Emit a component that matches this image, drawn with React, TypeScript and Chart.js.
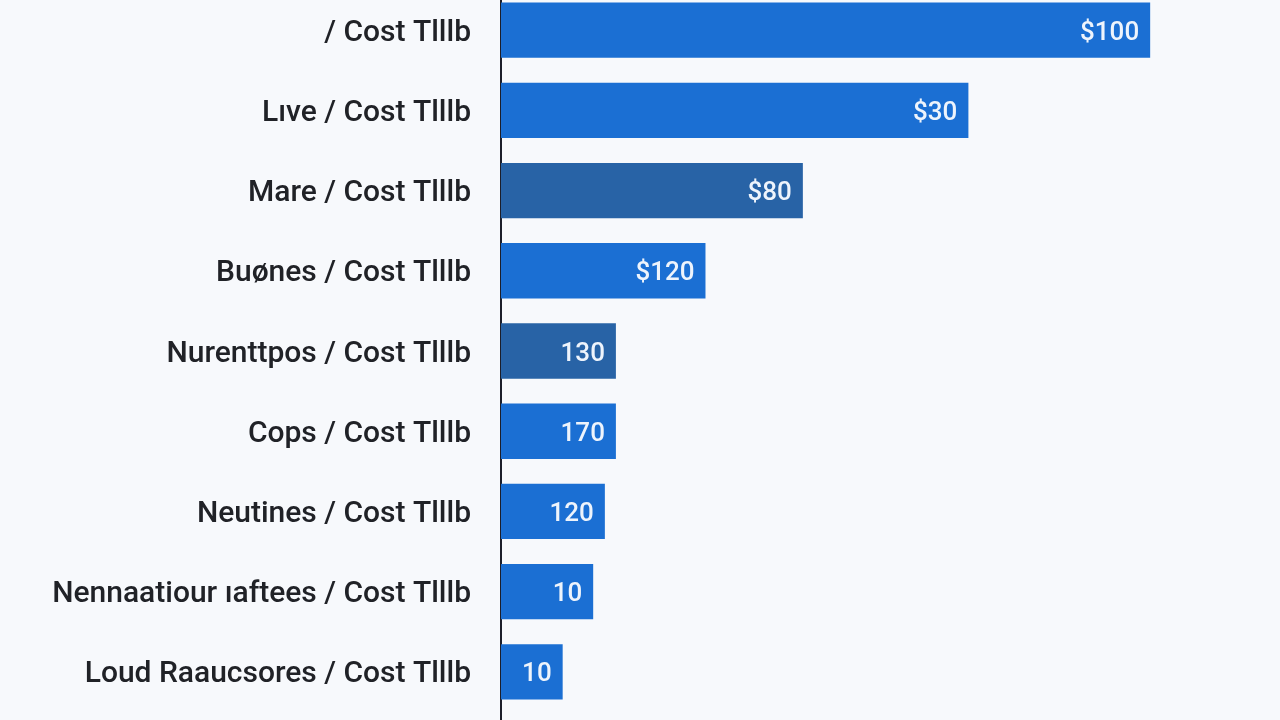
import React, { useEffect, useRef } from 'react';
import { Chart, registerables } from 'chart.js';

Chart.register(...registerables);

// Category labels as they read in the picture
const categories = [
  '/ Cost Tlllb',
  'Lıve / Cost Tlllb',
  'Mare / Cost Tlllb',
  'Buønes / Cost Tlllb',
  'Nurenttpos / Cost Tlllb',
  'Cops / Cost Tlllb',
  'Neutines / Cost Tlllb',
  'Nennaatiour ıaftees / Cost Tlllb',
  'Loud Raaucsores / Cost Tlllb',
];

// Bar lengths
const costValues = [100, 72, 46.5, 31.5, 17.7, 17.7, 16, 14.2, 9.5];

// Text printed inside each bar
const valueLabels = ['$100', '$30', '$80', '$120', '130', '170', '120', '10', '10'];

const BRIGHT = '#1b6fd3';
const DARK = '#2863a6';
const barColors = [BRIGHT, BRIGHT, DARK, BRIGHT, DARK, BRIGHT, BRIGHT, BRIGHT, BRIGHT];

const FONT = 'Roboto, "Liberation Sans", Arial, sans-serif';

// draws the value text at the inner right end of each bar
const barValuePlugin = {
  id: 'barValues',
  afterDatasetsDraw(chart: Chart) {
    const { ctx } = chart;
    const meta = chart.getDatasetMeta(0);
    ctx.save();
    ctx.fillStyle = '#eef4fc';
    ctx.font = `500 26px ${FONT}`;
    ctx.textAlign = 'right';
    ctx.textBaseline = 'middle';
    meta.data.forEach((bar: any, i: number) => {
      ctx.fillText(valueLabels[i], bar.x - 11, bar.y + 3);
    });
    ctx.restore();
  },
};

const App: React.FC = () => {
  const chartRef = useRef<HTMLCanvasElement>(null);

  useEffect(() => {
    if (!chartRef.current) return;
    const chart = new Chart(chartRef.current, {
      type: 'bar',
      data: {
        labels: categories,
        datasets: [
          {
            data: costValues,
            backgroundColor: barColors,
            borderWidth: 0,
            barPercentage: 0.69,
            categoryPercentage: 1,
          },
        ],
      },
      options: {
        indexAxis: 'y',
        animation: false,
        responsive: true,
        maintainAspectRatio: false,
        layout: { padding: 0 },
        plugins: {
          legend: { display: false },
          tooltip: { enabled: false },
        },
        scales: {
          x: {
            display: false,
            min: 0,
            max: 120,
          },
          y: {
            afterFit: (scale: any) => {
              scale.width = 501;
              scale.paddingTop = 0;
              scale.paddingBottom = 0;
            },
            grid: { display: false, drawTicks: false },
            border: { display: true, color: '#1c1e2a', width: 2 },
            ticks: {
              padding: 30,
              labelOffset: 3,
              color: '#202227',
              font: { family: FONT, size: 30, weight: 500 },
            },
          },
        },
      },
      plugins: [barValuePlugin],
    });
    return () => chart.destroy();
  }, []);

  return (
    <div
      style={{
        position: 'fixed',
        left: 0,
        top: -10,
        width: 1280,
        height: 732,
        background: '#f7f9fc',
      }}
    >
      {/* axis line runs on to the bottom edge of the picture */}
      <div
        style={{
          position: 'absolute',
          left: 500,
          top: 700,
          width: 2,
          height: 32,
          background: '#1c1e2a',
        }}
      />
      <div style={{ position: 'relative', width: 1280, height: 722 }}>
        <canvas ref={chartRef}></canvas>
      </div>
    </div>
  );
};

export default App;
